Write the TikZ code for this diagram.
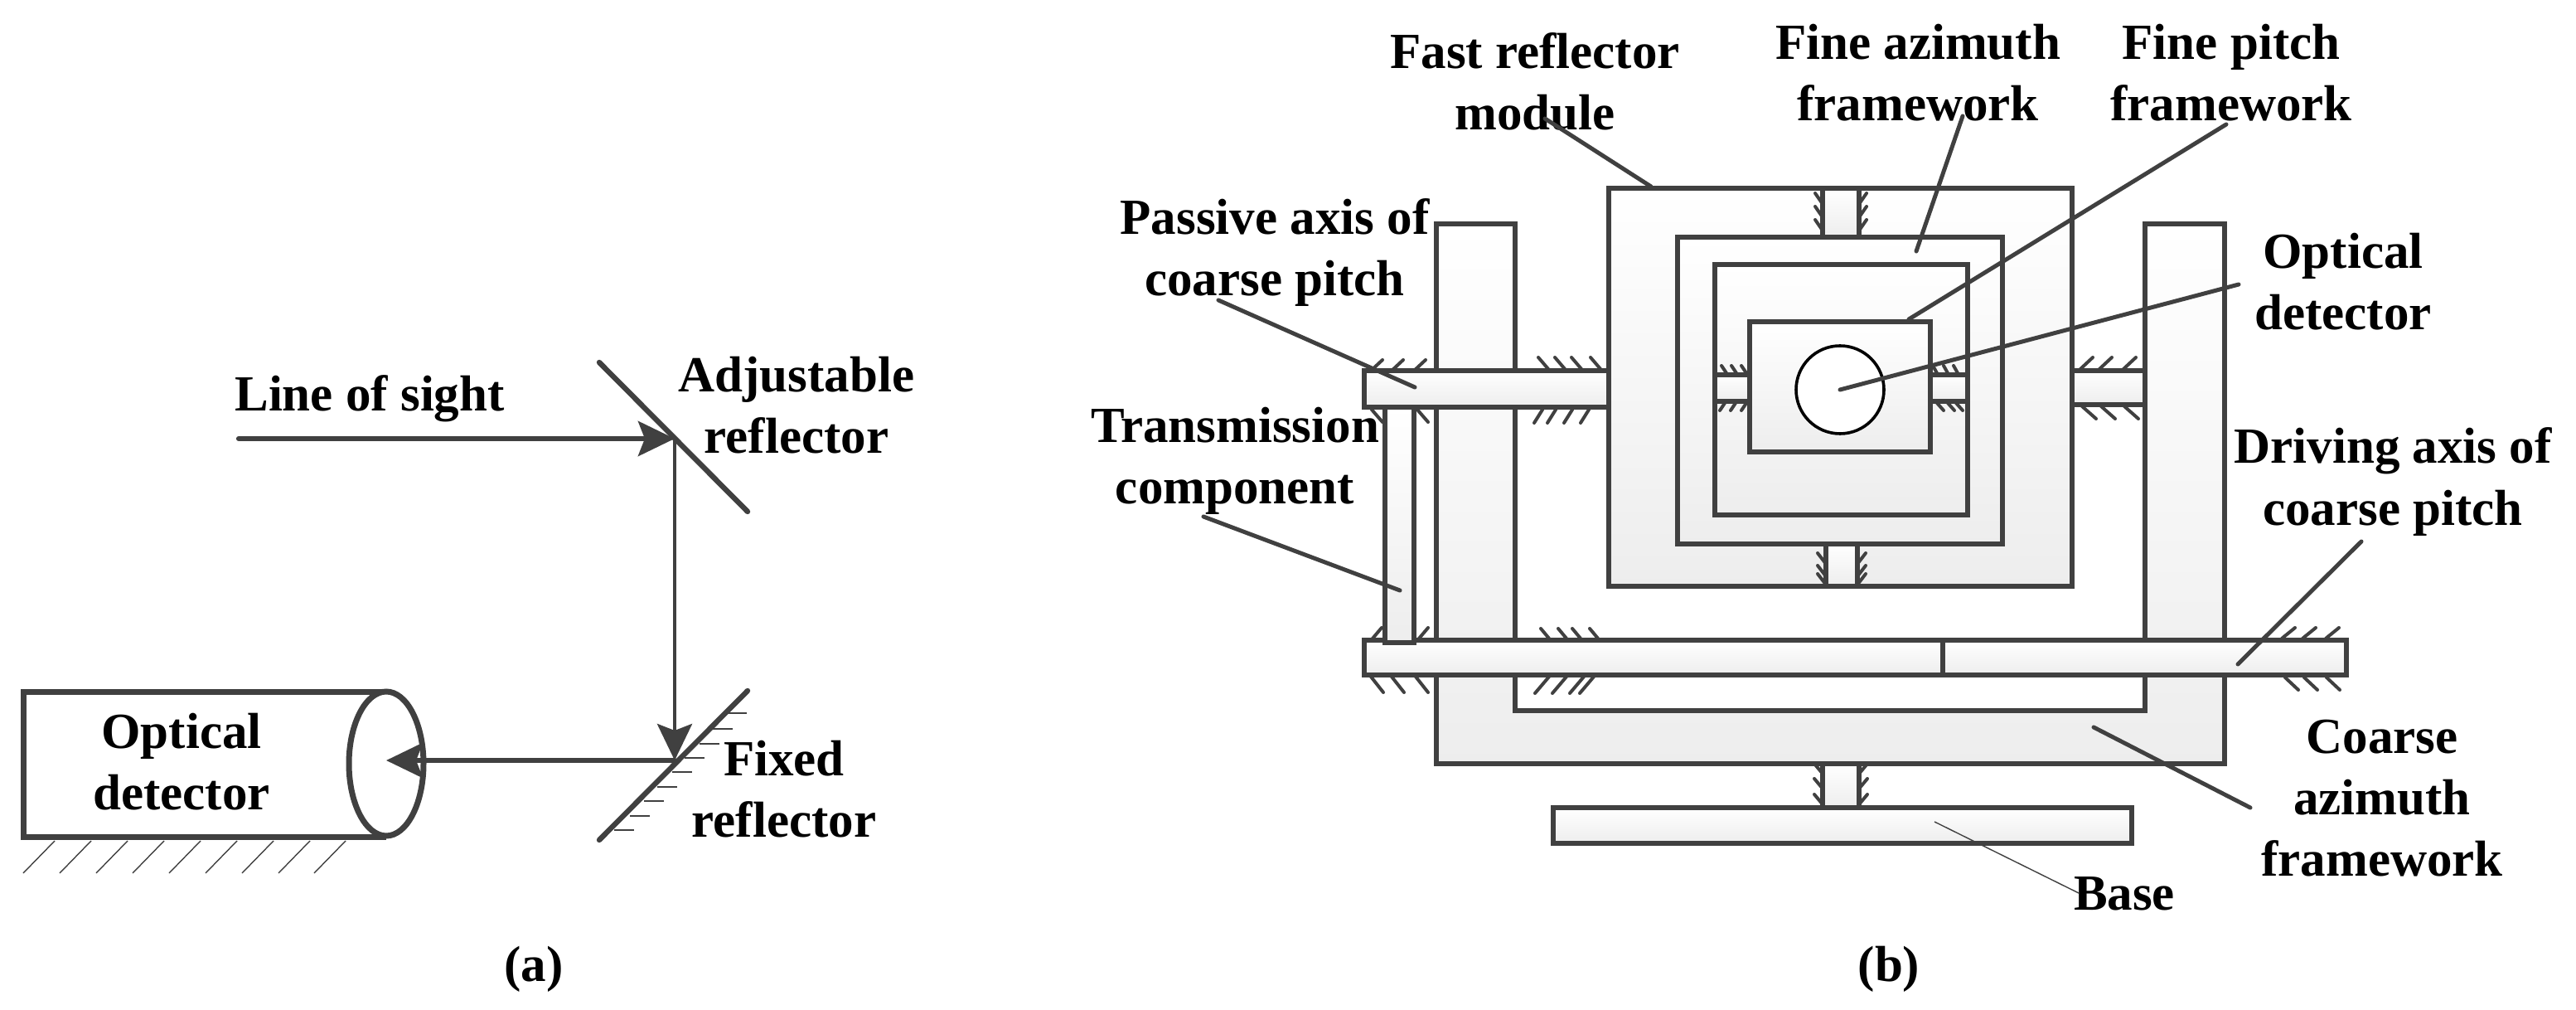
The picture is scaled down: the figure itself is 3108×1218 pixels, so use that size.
\documentclass[tikz,border=0pt]{standalone}
\usepackage{fontspec}
\setmainfont{Liberation Serif}
\usetikzlibrary{arrows.meta, positioning}
\definecolor{partgray}{HTML}{404040}
\tikzstyle{part} = [draw=partgray, line width=2.7pt, top color=white, bottom color=black!7, line join=miter]
\tikzstyle{ray} = [draw=partgray, line width=3.1pt, -{Stealth[length=22pt, width=21pt, inset=4pt]}, line cap=round]
\tikzstyle{mirror} = [draw=partgray, line width=3.2pt, line cap=round]
\tikzstyle{leader} = [draw=partgray, line width=2.5pt, line cap=round]
\tikzstyle{tick} = [draw=partgray, line width=2pt, line cap=round]
\tikzstyle{thin} = [draw=partgray, line width=0.7pt]
\tikzstyle{lbl} = [font=\fontsize{30.5}{37}\selectfont\bfseries, align=center, inner sep=0pt, anchor=base]
\begin{document}
\begin{tikzpicture}[x=0.5pt, y=-0.5pt]
    \useasboundingbox (0, 0) rectangle (3108, 1218);
    % (a) optical path
    \draw [draw=partgray, line width=3.5pt] (466, 834) -- (28, 834) -- (28, 1009) -- (466, 1009);
    \filldraw [fill=white, draw=partgray, line width=3.5pt] (466, 921) ellipse [x radius=45, y radius=87];
    \foreach \x in {28, 72, 116, 160, 204, 248, 292, 336, 379}
        \draw [thin] (\x, 1053) -- ++(38, -39);
    \draw [mirror] (723, 437) coordinate (adjTop) -- (902, 617) coordinate (adjEnd);
    \draw [mirror] (902, 833) coordinate (fixTop) -- (723, 1013) coordinate (fixEnd);
    \foreach \x/\y in {877/860, 860/879, 844/897, 826/914, 811/931, 793/949, 777/966, 760/984, 741/1001}
        \draw [thin, line width=1pt] (\x, \y) -- ++(24, 0);
    \coordinate (sightStart) at (288, 529);
    \coordinate (adjPoint) at (814, 529);
    \coordinate (fixPoint) at (814, 917);
    \coordinate (detPoint) at (466, 917);
    \draw [ray] (sightStart) -- (adjPoint);
    \draw [ray, line width=2.4pt] (adjPoint) -- (fixPoint);
    \draw [ray] (fixPoint) -- (detPoint);
    \node [lbl] (sightLabel) at (446, 496) {Line of sight};
    \node [lbl] (adjLabel) at (961, 547) {Adjustable\\reflector};
    \node [lbl] (fixLabel) at (946, 1009) {Fixed\\reflector};
    \node [lbl] (detLabel) at (219, 976) {Optical\\detector};
    \node [lbl] (aLabel) at (644, 1183) {(a)};
    % (b) coarse azimuth framework
    \filldraw [part] (1733, 270) -- (1828, 270) -- (1828, 857) -- (2588, 857) -- (2588, 270) -- (2684, 270) -- (2684, 921) -- (1733, 921) -- cycle;
    % fast reflector module and fine frameworks
    \filldraw [part] (1941, 227) rectangle (2500, 707);
    \filldraw [part] (2199, 227) rectangle (2243, 286);
    \filldraw [part] (2024, 286) rectangle (2416, 656);
    \filldraw [part] (2203, 656) rectangle (2241, 707);
    \filldraw [part] (2069, 319) rectangle (2374, 621);
    \filldraw [part] (2069, 452) rectangle (2111, 484);
    \filldraw [part] (2329, 452) rectangle (2374, 484);
    \filldraw [part] (2111, 388) rectangle (2329, 545);
    \filldraw [fill=white, draw=black, line width=1.8pt] (2220, 470) circle (53);
    % axes
    \filldraw [part] (2500, 447) rectangle (2588, 488);
    \filldraw [part] (1646, 447) rectangle (1941, 491);
    \filldraw [part] (1646, 772) rectangle (2344, 814);
    \filldraw [part] (2344, 772) rectangle (2831, 814);
    \filldraw [part] (1671, 491) rectangle (1706, 775);
    \filldraw [part] (2199, 921) rectangle (2243, 974);
    \filldraw [part] (1874, 974) rectangle (2572, 1017);
    % bearings
    \foreach \y in {246, 262, 278} {
        \draw [tick] (2199, \y) -- ++(-9, -13);
        \draw [tick] (2243, \y) -- ++(9, -13);
    }
    \foreach \y in {680, 695, 705} {
        \draw [tick] (2203, \y) -- ++(-10, -13);
        \draw [tick] (2241, \y) -- ++(10, -13);
    }
    \foreach \y in {933, 951, 970} {
        \draw [tick] (2199, \y) -- ++(-10, -12);
        \draw [tick] (2243, \y) -- ++(10, -12);
    }
    \foreach \x in {1653, 1678, 1705}
        \draw [tick] (\x, 448) -- ++(15, -14);
    \foreach \x in {1655, 1710}
        \draw [tick] (\x, 494) -- ++(13, 15);
    \foreach \x in {1868, 1888, 1908, 1931}
        \draw [tick] (\x, 445) -- ++(-12, -14);
    \foreach \x in {1861, 1877, 1897, 1917}
        \draw [tick] (\x, 494) -- ++(-10, 16);
    \foreach \x in {2083, 2095, 2107}
        \draw [tick] (\x, 450) -- ++(-6, -9);
    \foreach \x in {2081, 2094, 2107}
        \draw [tick] (\x, 486) -- ++(-6, 9);
    \foreach \x in {2337, 2350, 2362}
        \draw [tick] (\x, 450) -- ++(-5, -9);
    \foreach \x in {2337, 2350, 2360}
        \draw [tick] (\x, 486) -- ++(8, 9);
    \foreach \x in {2510, 2533, 2562}
        \draw [tick] (\x, 445) -- ++(15, -14);
    \foreach \x in {2512, 2535, 2563}
        \draw [tick] (\x, 490) -- ++(17, 15);
    \foreach \x in {1656, 1712}
        \draw [tick] (\x, 770) -- ++(11, -13);
    \foreach \x in {1869, 1890, 1907, 1928}
        \draw [tick] (\x, 770) -- ++(-10, -12);
    \foreach \x in {1654, 1679, 1708}
        \draw [tick] (\x, 816) -- ++(15, 19);
    \foreach \x in {1869, 1890, 1911, 1923}
        \draw [tick] (\x, 816) -- ++(-17, 20);
    \foreach \x in {2753, 2778, 2806}
        \draw [tick] (\x, 770) -- ++(16, -13);
    \foreach \x in {2757, 2780, 2807}
        \draw [tick] (\x, 817) -- ++(16, 15);
    % labels of (b)
    \node [lbl] (fastLabel) at (1852, 157) {Fast reflector\\module};
    \node [lbl] (azimLabel) at (2314, 146) {Fine azimuth\\framework};
    \node [lbl] (pitchLabel) at (2692, 146) {Fine pitch\\framework};
    \node [lbl] (opticLabel) at (2827, 398) {Optical\\detector};
    \node [lbl] (passiveLabel) at (1538, 357) {Passive axis of\\coarse pitch};
    \node [lbl] (transLabel) at (1490, 608) {Transmission\\component};
    \node [lbl] (driveLabel) at (2887, 633) {Driving axis of\\coarse pitch};
    \node [lbl] (coarseLabel) at (2874, 1056) {Coarse\\azimuth\\framework};
    \node [lbl] (baseLabel) at (2563, 1097) {Base};
    \node [lbl] (bLabel) at (2279, 1183) {(b)};
    % leaders
    \coordinate (fastFrom) at (1864, 143);    \coordinate (fastTo) at (1992, 225);
    \coordinate (azimFrom) at (2368, 140);    \coordinate (azimTo) at (2312, 303);
    \coordinate (pitchFrom) at (2686, 150);   \coordinate (pitchTo) at (2303, 385);
    \coordinate (opticFrom) at (2701, 343);   \coordinate (opticTo) at (2220, 470);
    \coordinate (passiveFrom) at (1470, 362); \coordinate (passiveTo) at (1707, 467);
    \coordinate (transFrom) at (1452, 623);   \coordinate (transTo) at (1689, 712);
    \coordinate (driveFrom) at (2849, 653);   \coordinate (driveTo) at (2700, 801);
    \coordinate (coarseFrom) at (2715, 974);  \coordinate (coarseTo) at (2526, 877);
    \coordinate (baseFrom) at (2508, 1077);   \coordinate (baseTo) at (2334, 991);
    \foreach \a/\b in {fastFrom/fastTo, azimFrom/azimTo, pitchFrom/pitchTo, opticFrom/opticTo, passiveFrom/passiveTo, transFrom/transTo, driveFrom/driveTo, coarseFrom/coarseTo}
        \draw [leader] (\a) -- (\b);
    \draw [thin] (baseFrom) -- (baseTo);
\end{tikzpicture}
\end{document}
